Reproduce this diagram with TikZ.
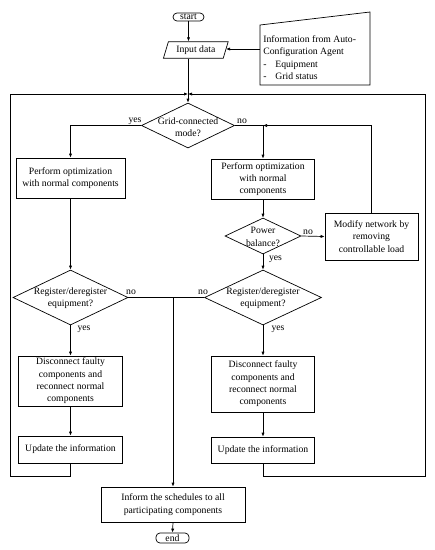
\documentclass[tikz,border=0pt]{standalone}
\usepackage{fontspec}
\setmainfont{Liberation Serif}
\usetikzlibrary{shapes.geometric,arrows.meta}
\begin{document}
\begin{tikzpicture}[x=1pt,y=-1pt,
  font=\fontsize{9.7}{12.3}\selectfont,
  line width=0.7pt,
  arr/.style={-{Latex[length=4pt,width=3.2pt]}},
  box/.style={draw, rectangle, inner sep=0pt, align=center},
  dia/.style={draw, diamond, inner sep=0pt},
  dtext/.style={inner sep=0pt, align=center},
  term/.style={draw, rounded corners=4pt, inner sep=0pt},
  lbl/.style={inner sep=0pt}
]
\useasboundingbox (0,0) rectangle (435,550);
% terminals
\node[term, minimum width=31pt, minimum height=8pt] (start) at (188.5,17) {start};
\node[term, minimum width=33pt, minimum height=10pt] (end) at (172.5,538) {end};
% input data
\node[draw, trapezium, trapezium left angle=68, trapezium right angle=112, trapezium stretches=true,
  minimum width=65pt, minimum height=16.6pt, inner sep=0pt] (inp) at (195.8,50) {Input data\hspace{13.6pt}};
% agent (manual input)
\coordinate (a1) at (260,25);
\coordinate (a2) at (370,12);
\coordinate (a3) at (370,85);
\coordinate (a4) at (260,85);
\draw (a1) -- (a2) -- (a3) -- (a4) -- cycle;
\node[inner sep=0pt, anchor=west, align=left] (agent) at (263,57.5)
  {Information from Auto-\\Configuration Agent\\\makebox[12pt][l]{-}Equipment\\\makebox[12pt][l]{-}Grid status};
\coordinate (agL) at (260,49);
% main flow
\coordinate (J) at (188,94);
\node[dia, minimum width=93pt, minimum height=45pt] (grid) at (188,125.5) {};
\node[dtext] (gridT) at (188,127) {Grid-connected\\mode?};
\node[box, minimum width=109pt, minimum height=40pt] (lopt) at (70.5,178) {Perform optimization\\with normal components};
\node[box, minimum width=103pt, minimum height=40pt] (ropt) at (263,179) {Perform optimization\\with normal\\components};
\node[dia, minimum width=76pt, minimum height=36pt] (pow) at (263,236) {};
\node[dtext] (powT) at (263,237) {Power\\balance?};
\node[box, minimum width=93pt, minimum height=47pt] (mod) at (371.5,236.5) {Modify network by\\removing\\controllable load};
\node[dia, minimum width=115pt, minimum height=55pt] (lreg) at (70.5,297.5) {};
\node[dtext] (lregT) at (70.5,298) {Register/deregister\\equipment?};
\node[dia, minimum width=117pt, minimum height=55pt] (rreg) at (263,297.5) {};
\node[dtext] (rregT) at (263,298) {Register/deregister\\equipment?};
\node[box, minimum width=104pt, minimum height=50pt] (ldis) at (70.5,381) {Disconnect faulty\\components and\\reconnect normal\\components};
\node[box, minimum width=104pt, minimum height=27pt] (lupd) at (70.5,449.5) {Update the information};
\node[box, minimum width=103pt, minimum height=56pt] (rdis) at (263,384) {Disconnect faulty\\components and\\reconnect normal\\components};
\node[box, minimum width=103pt, minimum height=26pt] (rupd) at (263,450) {Update the information};
\node[box, minimum width=144pt, minimum height=35pt] (inf) at (173,504.5) {Inform the schedules to all\\participating components};
% labels
\node[lbl] (l1) at (135,121) {yes};
\node[lbl] (l2) at (242,121) {no};
\node[lbl] (l3) at (308,232) {no};
\node[lbl] (l4) at (275.5,259) {yes};
\node[lbl] (l5) at (131,292) {no};
\node[lbl] (l6) at (203,292) {no};
\node[lbl] (l7) at (84,329) {yes};
\node[lbl] (l8) at (278,329) {yes};
% helper coordinates
\coordinate (gL) at (70.5,125.5);
\coordinate (gR) at (263,125.5);
\coordinate (mT) at (371.5,125.5);
\coordinate (mid) at (173,297.5);
\coordinate (fL1) at (70.5,476);
\coordinate (fL2) at (10,476);
\coordinate (fL3) at (10,94);
\coordinate (fR1) at (263,476);
\coordinate (fR2) at (425,476);
\coordinate (fR3) at (425,94);
% connectors
\draw[arr] (start.south) -- (start.south |- inp.north);
\draw[arr] (agL) -- (agL -| inp.east);
\draw (inp.south -| J) -- (J);
\draw[arr] (J) -- (grid.north);
\draw[arr] (grid.west) -- (gL) -- (lopt.north);
\draw[arr] (grid.east) -- (gR) -- (ropt.north);
\draw[arr] (lopt.south) -- (lreg.north);
\draw[arr] (ropt.south) -- (pow.north);
\draw[arr] (pow.east) -- (mod.west);
\draw[arr] (mod.north) -- (mT) -- (gR);
\draw[arr] (pow.south) -- (rreg.north);
\draw (lreg.east) -- (rreg.west);
\draw[arr] (mid) -- (inf.north);
\draw[arr] (lreg.south) -- (ldis.north);
\draw[arr] (ldis.south) -- (lupd.north);
\draw[arr] (lupd.south) -- (fL1) -- (fL2) -- (fL3) -- (J);
\draw[arr] (rreg.south) -- (rdis.north);
\draw[arr] (rdis.south) -- (rupd.north);
\draw[arr] (rupd.south) -- (fR1) -- (fR2) -- (fR3) -- (J);
\draw[arr] (inf.south) -- (end.north);
\end{tikzpicture}
\end{document}
